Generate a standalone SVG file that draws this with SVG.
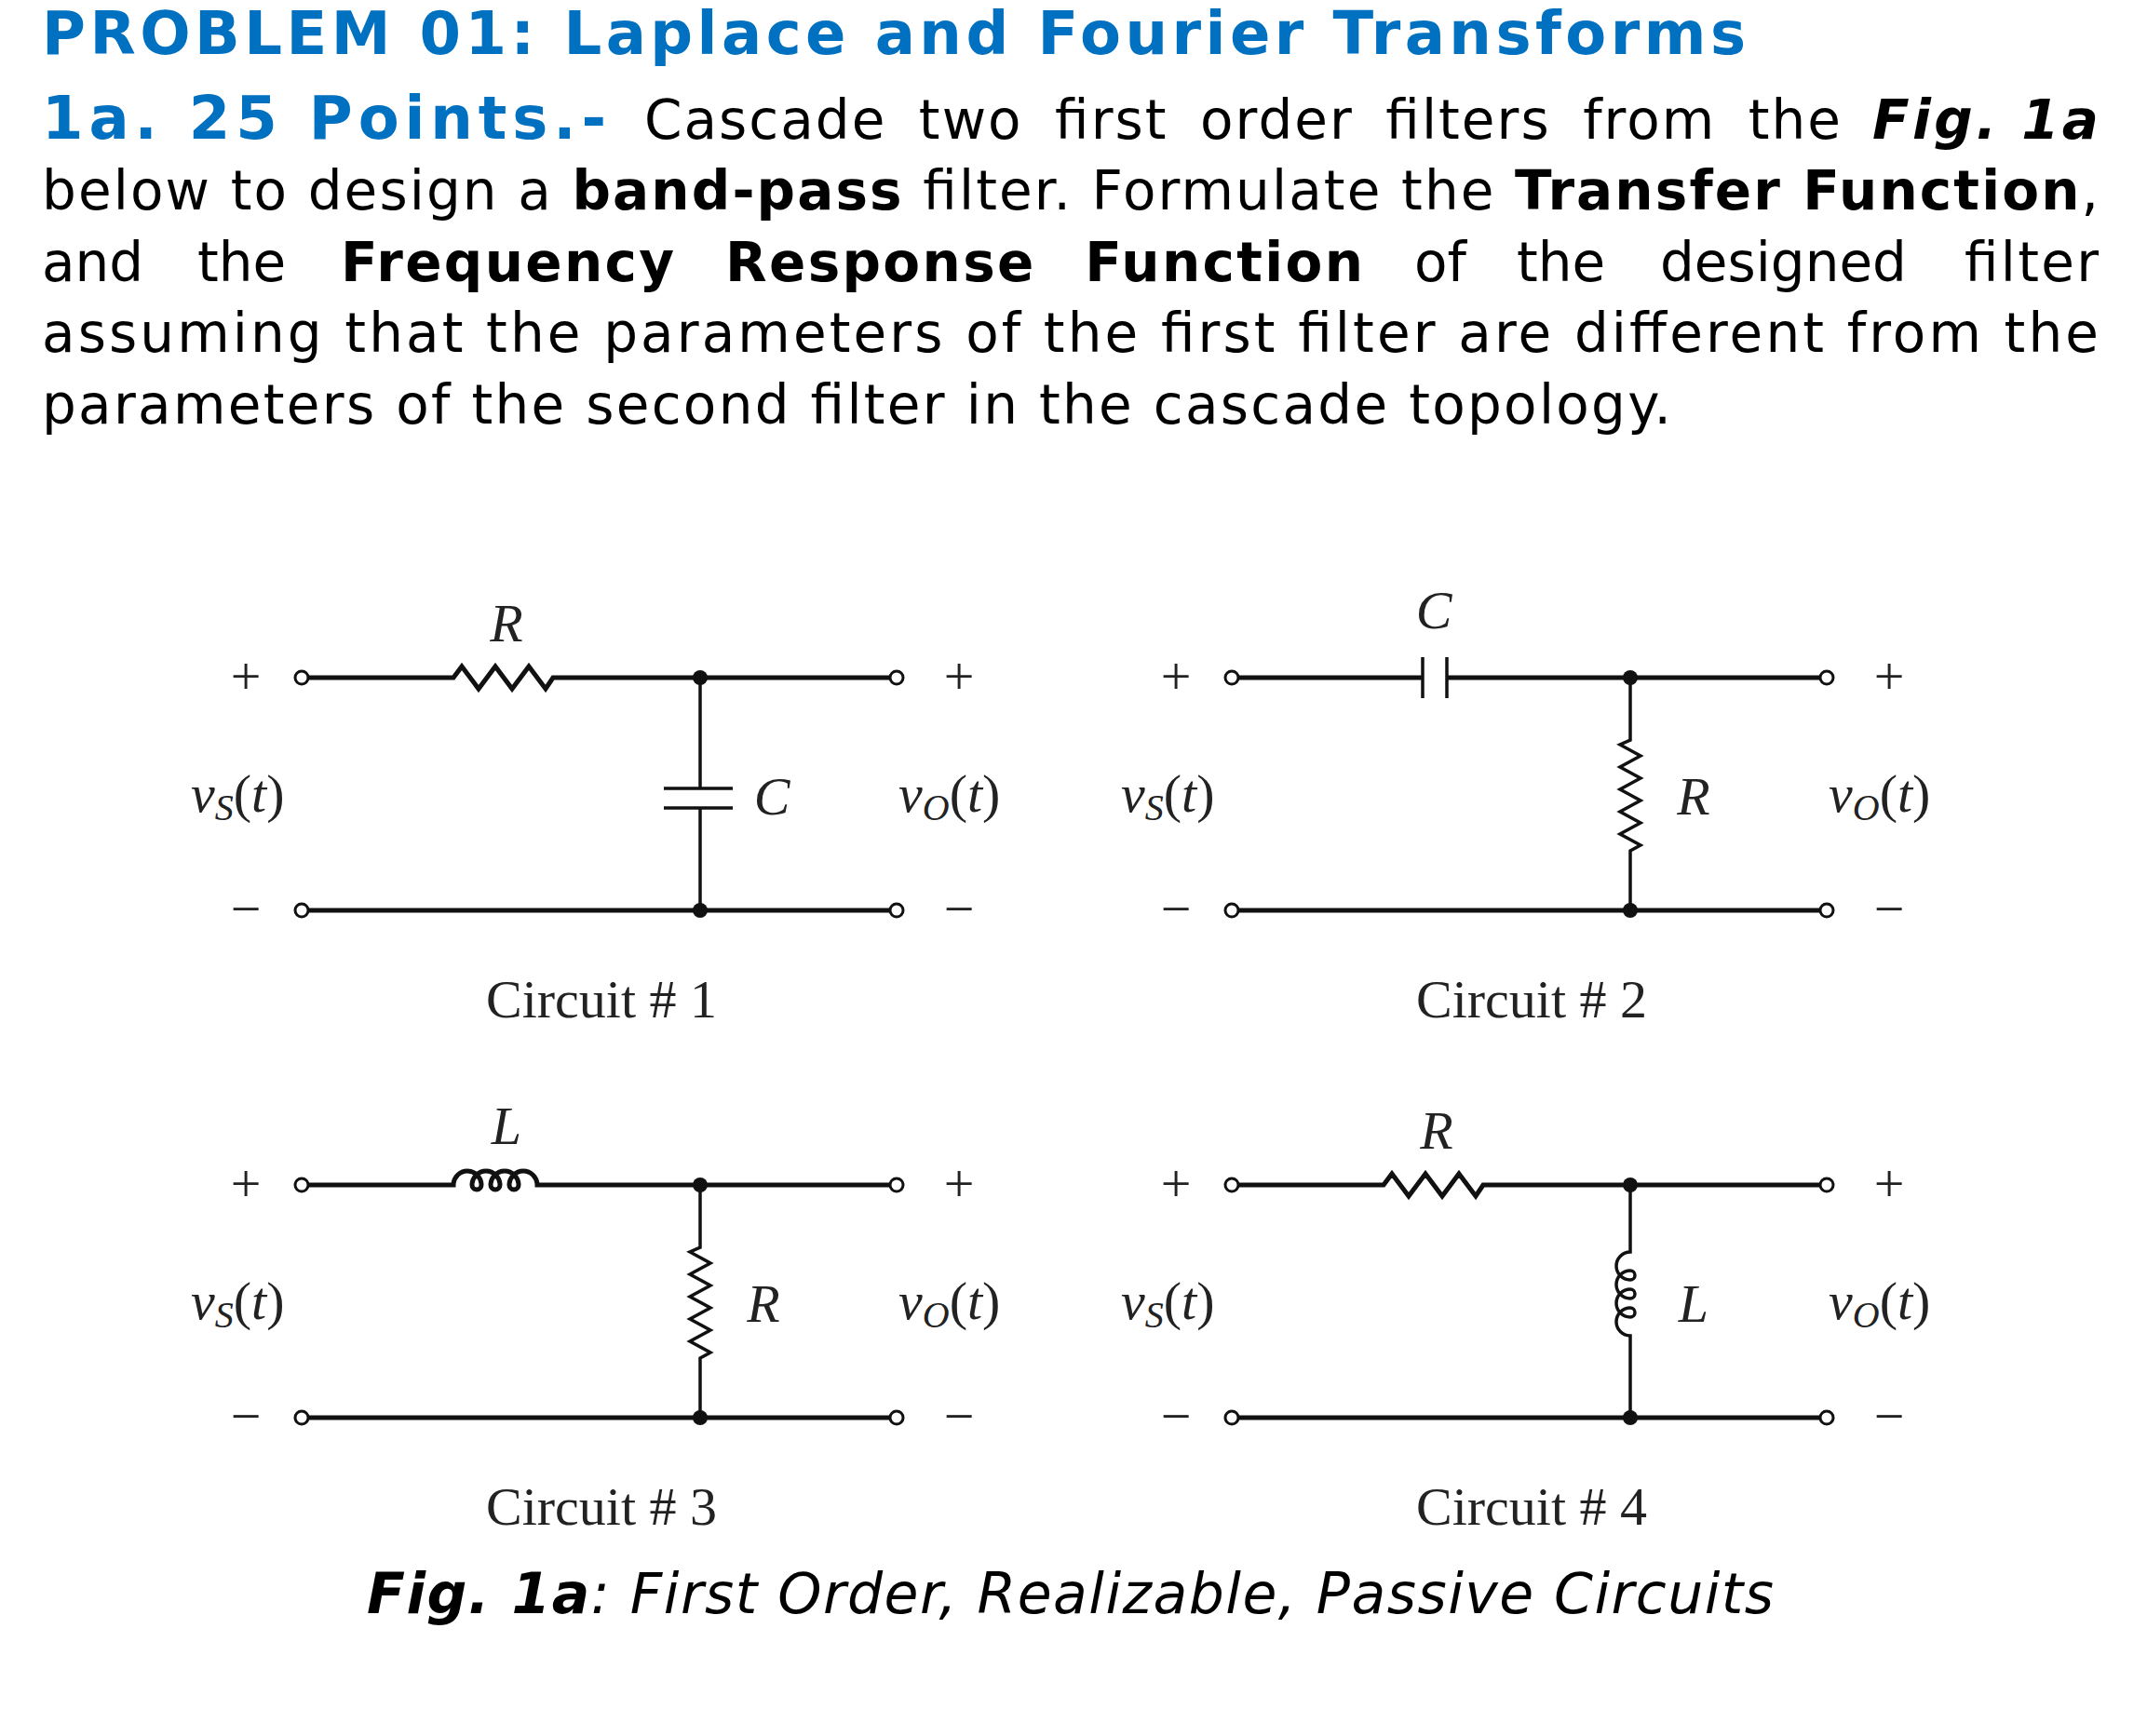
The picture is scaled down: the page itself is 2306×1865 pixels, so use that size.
<svg xmlns="http://www.w3.org/2000/svg" width="2306" height="1865" viewBox="0 0 2306 1865">
<style>
.t{font-family:"DejaVu Sans",Verdana,sans-serif;font-size:58px;fill:#000}
.b{font-weight:bold}
.blue{fill:#0070c0;font-weight:bold}
.m{font-family:"Liberation Serif","Times New Roman",serif;font-size:58px;fill:#222}
.i{font-style:italic}
.s{font-size:40px}
.w{stroke:#111;stroke-width:5;fill:none}
.wt{stroke:#111;stroke-width:3.5;fill:none;stroke-linejoin:miter}
.term{fill:#fff;stroke:#111;stroke-width:3}
.dot{fill:#111}
</style>
<rect width="2306" height="1865" fill="#fff"/>
<g id="text">
<text class="t blue" x="45" y="58" textLength="1830" style="font-size:64px">PROBLEM 01: Laplace and Fourier Transforms</text>
<text class="t blue" x="45" y="149" textLength="606" style="font-size:64px">1a. 25 Points.-</text>
<text class="t" x="692" y="149" textLength="1285" lengthAdjust="spacing" style="word-spacing:14px">Cascade two first order filters from the</text>
<text class="t b i" x="2011" y="149" textLength="243">Fig. 1a</text>
<text class="t" x="45" y="225" textLength="2209">below to design a <tspan class="b">band-pass</tspan> filter. Formulate the <tspan class="b">Transfer Function</tspan>,</text>
<text class="t" x="45" y="302">and</text>
<text class="t" x="212" y="302">the</text>
<text class="t b" x="366" y="302" textLength="1098" style="word-spacing:30px">Frequency Response Function</text>
<text class="t" x="1519" y="302">of</text>
<text class="t" x="1629" y="302">the</text>
<text class="t" x="1783" y="302">designed</text>
<text class="t" x="2110" y="302" textLength="144">filter</text>
<text class="t" x="45" y="378" textLength="2209">assuming that the parameters of the first filter are different from the</text>
<text class="t" x="45" y="455" textLength="1750">parameters of the second filter in the cascade topology.</text>
<text class="t i" x="394" y="1733" textLength="1511" style="font-size:60px"><tspan class="b">Fig. 1a</tspan>: First Order, Realizable, Passive Circuits</text>
</g>
<defs>
<g id="frame">
<line class="w" x1="330" y1="978" x2="957" y2="978"/>
<circle class="term" cx="324" cy="728" r="7"/>
<circle class="term" cx="324" cy="978" r="7"/>
<circle class="term" cx="963" cy="728" r="7"/>
<circle class="term" cx="963" cy="978" r="7"/>
<circle class="dot" cx="752" cy="728" r="8"/>
<circle class="dot" cx="752" cy="978" r="8"/>
<text class="m" x="264" y="746" text-anchor="middle">+</text>
<text class="m" x="264" y="996" text-anchor="middle">−</text>
<text class="m" x="1030" y="746" text-anchor="middle">+</text>
<text class="m" x="1030" y="996" text-anchor="middle">−</text>
<text class="m" x="205" y="872"><tspan class="i">v</tspan><tspan class="i s" dy="9">S</tspan><tspan dy="-9">(</tspan><tspan class="i">t</tspan>)</text>
<text class="m" x="965" y="872"><tspan class="i">v</tspan><tspan class="i s" dy="9">O</tspan><tspan dy="-9">(</tspan><tspan class="i">t</tspan>)</text>
</g>
</defs>
<g id="circuit1">
<use href="#frame"/>
<path class="w" d="M330 728 H487 L496 716 L514 740 L532 716 L550 740 L568 716 L586 740 L594 728 H957"/>
<path class="wt" d="M752 728 V847 M713 847 H787 M713 868 H787 M752 868 V978" />
<text class="m i" x="544" y="689" text-anchor="middle">R</text>
<text class="m i" x="829" y="875" text-anchor="middle">C</text>
<text class="m" x="646" y="1093" text-anchor="middle">Circuit # 1</text>
</g>
<g id="circuit2" transform="translate(999,0)">
<use href="#frame"/>
<path class="w" d="M330 728 H529 M555 728 H957"/>
<path class="wt" d="M529 706 V750 M555 706 V750"/>
<path class="wt" d="M752 728 V795 L741 800 L763 812 L741 824 L763 836 L741 848 L763 860 L741 872 L763 884 L741 896 L763 908 L752 914 V978"/>
<text class="m i" x="541" y="675" text-anchor="middle">C</text>
<text class="m i" x="820" y="875" text-anchor="middle">R</text>
<text class="m" x="646" y="1093" text-anchor="middle">Circuit # 2</text>
</g>
<g id="circuit3" transform="translate(0,545)">
<use href="#frame"/>
<path class="w" d="M330 728 H487 a15 15 0 1 1 30 0 a5 5 0 1 1 -10 0 a15 15 0 1 1 30 0 a5 5 0 1 1 -10 0 a15 15 0 1 1 30 0 a5 5 0 1 1 -10 0 a15 15 0 1 1 30 0 H957"/>
<path class="wt" d="M752 728 V795 L741 800 L763 812 L741 824 L763 836 L741 848 L763 860 L741 872 L763 884 L741 896 L763 908 L752 914 V978"/>
<text class="m i" x="544" y="684" text-anchor="middle">L</text>
<text class="m i" x="820" y="875" text-anchor="middle">R</text>
<text class="m" x="646" y="1093" text-anchor="middle">Circuit # 3</text>
</g>
<g id="circuit4" transform="translate(999,545)">
<use href="#frame"/>
<path class="w" d="M330 728 H487 L496 716 L514 740 L532 716 L550 740 L568 716 L586 740 L594 728 H957"/>
<path class="wt" d="M752 728 V800 a15 15 0 1 0 0 30 a5 5 0 1 0 0 -10 a15 15 0 1 0 0 30 a5 5 0 1 0 0 -10 a15 15 0 1 0 0 30 a5 5 0 1 0 0 -10 a15 15 0 1 0 0 30 V978"/>
<text class="m i" x="544" y="689" text-anchor="middle">R</text>
<text class="m i" x="820" y="875" text-anchor="middle">L</text>
<text class="m" x="646" y="1093" text-anchor="middle">Circuit # 4</text>
</g>
</svg>
